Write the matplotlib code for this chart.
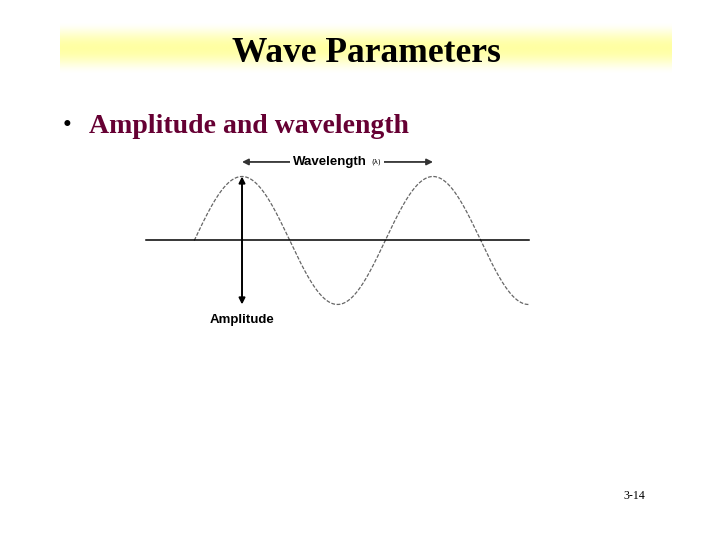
import numpy as np
import matplotlib
matplotlib.use('Agg')
import matplotlib.pyplot as plt

# slide text
title = 'Wave Parameters'
bullet = 'Amplitude and wavelength'
page_no = '3-14'
wave_labels = ['Wavelength', '(λ)', 'Amplitude']

# wave, in units of one wavelength (x) and one amplitude (y)
wavelength = 1.0
amplitude = 1.0
wave_start, wave_end = -0.25, 1.5
axis_start, axis_end = -0.5, 1.5

fig = plt.figure(figsize=(7.2, 5.4), dpi=100)

# background canvas in pixel units for the slide texts
bg = fig.add_axes([0, 0, 1, 1])
bg.axis('off')

# pale yellow title band, fading to white at top and bottom
t = np.linspace(0, 1, 60)
fade = 0.9 * np.sin(np.pi * t) ** 1.6
band = np.zeros((60, 2, 4))
band[..., 0] = 1.0
band[..., 1] = 1.0
band[..., 2] = 0.6
band[..., 3] = fade[:, None]
bg.imshow(band, extent=(60, 672, 74, 22), aspect='auto', interpolation='bilinear')
bg.set_xlim(0, 720)
bg.set_ylim(540, 0)

bg.text(366, 62, title, ha='center', va='baseline', fontsize=25.5,
        fontweight='bold', family='Liberation Serif', color='black')
bg.text(67, 132, '•', ha='center', va='baseline', fontsize=18,
        family='Liberation Serif', color='black')
bg.text(89, 133, bullet, ha='left', va='baseline', fontsize=20,
        fontweight='bold', family='Liberation Serif', color='#660033')
bg.text(634, 499, page_no, ha='center', va='baseline', fontsize=8.6,
        family='Liberation Serif', color='black')

# wave diagram
ax = fig.add_axes([140 / 720, (540 - 335) / 540, 400 / 720, 190 / 540])
ax.set_xlim(-0.534, 1.560)
ax.set_ylim(-1.477, 1.492)
ax.axis('off')

x = np.linspace(wave_start, wave_end, 500)
y = amplitude * np.cos(2 * np.pi * x / wavelength)
ax.plot(x, y, color='#666666', lw=0.9, linestyle=(0, (3, 1.3)))
ax.plot([axis_start, axis_end], [0, 0], color='black', lw=1.1)

# amplitude arrow
ax.annotate('', xy=(0, -amplitude), xytext=(0, amplitude),
            arrowprops=dict(arrowstyle='<|-|>', color='black', lw=1.4,
                            mutation_scale=9, shrinkA=0, shrinkB=0))
ax.text(0, -1.24 * amplitude, wave_labels[2], ha='center', va='center',
        fontsize=9.5, fontweight='bold', family='Liberation Sans')

# wavelength arrow
ya = 1.227
ax.annotate('', xy=(wavelength, ya), xytext=(0, ya),
            arrowprops=dict(arrowstyle='<|-|>', color='#333333', lw=1.3,
                            mutation_scale=9, shrinkA=0, shrinkB=0))
ax.text(0.267, ya, wave_labels[0], ha='left', va='center', fontsize=9.5,
        fontweight='bold', family='Liberation Sans',
        bbox=dict(facecolor='white', edgecolor='none', pad=2.5))
ax.text(0.705, ya, wave_labels[1], ha='center', va='center', fontsize=5,
        family='DejaVu Sans',
        bbox=dict(facecolor='white', edgecolor='none', pad=2))

fig.savefig('out.png', dpi=100)
